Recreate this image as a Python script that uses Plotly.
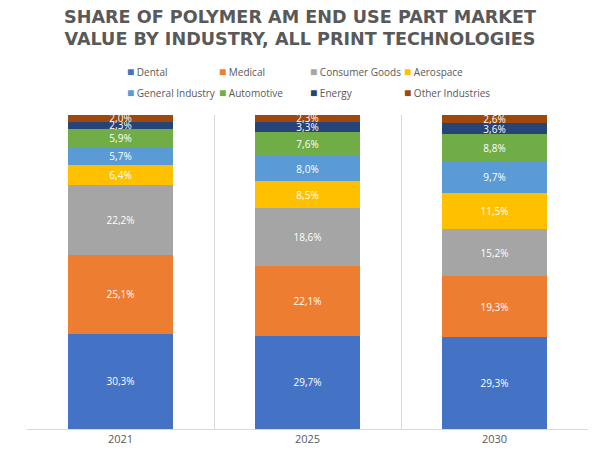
import plotly.graph_objects as go

years = ["2021", "2025", "2030"]
series = ["Dental", "Medical", "Consumer Goods", "Aerospace",
          "General Industry", "Automotive", "Energy", "Other Industries"]
dental = [30.3, 29.7, 29.3]
medical = [25.1, 22.1, 19.3]
consumer = [22.2, 18.6, 15.2]
aerospace = [6.4, 8.5, 11.5]
general = [5.7, 8.0, 9.7]
automotive = [5.9, 7.6, 8.8]
energy = [2.3, 3.3, 3.6]
other = [2.0, 2.3, 2.6]
values = [dental, medical, consumer, aerospace, general, automotive, energy, other]
colors = ["#4472C4", "#ED7D31", "#A5A5A5", "#FFC000",
          "#5B9BD5", "#70AD47", "#264478", "#9E480E"]

# page body has an 8px margin; figure sized to fit inside the window
W, H = 584, 444
OFF = 8
legend_ids = ["legend", "legend2", "legend3", "legend4"]

fig = go.Figure()
for i, (name, vals, col) in enumerate(zip(series, values, colors)):
    fig.add_trace(go.Bar(
        x=years, y=vals, name=name,
        marker=dict(color=col, line=dict(width=0)),
        texttemplate="%{y:.1f}%", textposition="inside",
        insidetextanchor="middle", constraintext="none",
        textfont=dict(family="Open Sans", size=10, color="white"),
        showlegend=False, legendgroup=name,
        hoverinfo="skip",
    ))
# legend entries: small coloured square glyph followed by the series name
for i, (name, col) in enumerate(zip(series, colors)):
    fig.add_trace(go.Scatter(
        x=[None], y=[None], mode="none",
        name=f"<span style='color:{col};font-size:12px'>■</span> {name}",
        legend=legend_ids[i % 4], legendgroup=name, showlegend=True,
        hoverinfo="skip",
    ))

legend_common = dict(
    orientation="v", xref="container", yref="container",
    xanchor="left", yanchor="top",
    font=dict(family="Open Sans", size=10, color="#595959"),
    itemwidth=30, tracegroupgap=2,
    traceorder="grouped", bgcolor="rgba(0,0,0,0)",
    itemclick=False, itemdoubleclick=False,
)
square_left = [127, 219, 310, 404]
legends = {lid: dict(legend_common, x=(sx - OFF - 40) / W, y=1 - (72 - OFF - 14) / H)
           for lid, sx in zip(legend_ids, square_left)}

fig.update_layout(
    width=W, height=H,
    barmode="stack", bargap=0.44,
    separators=",.",
    paper_bgcolor="white", plot_bgcolor="white",
    margin=dict(l=27 - OFF, r=W - (588 - OFF), t=115 - OFF, b=H - (429 - OFF),
                autoexpand=False),
    title=dict(
        text="SHARE OF POLYMER AM END USE PART MARKET<br>VALUE BY INDUSTRY, ALL PRINT TECHNOLOGIES",
        x=0.5, xanchor="center", y=1 - 14.5 / H, yanchor="middle",
        font=dict(family="DejaVu Sans", size=17.6, color="#595959", weight="bold"),
    ),
    uniformtext=dict(minsize=10, mode="show"),
    xaxis=dict(
        type="category", tickson="boundaries", showgrid=True,
        gridcolor="#D9D9D9", gridwidth=1,
        showline=True, linecolor="#D9D9D9", linewidth=1,
        ticks="", tickfont=dict(family="Open Sans", size=11, color="#595959"),
        range=[-0.5, 2.5], zeroline=False,
    ),
    yaxis=dict(range=[0, 100], visible=False, showgrid=False, fixedrange=True),
    showlegend=True,
    **legends,
)

fig.write_html("out.html")
